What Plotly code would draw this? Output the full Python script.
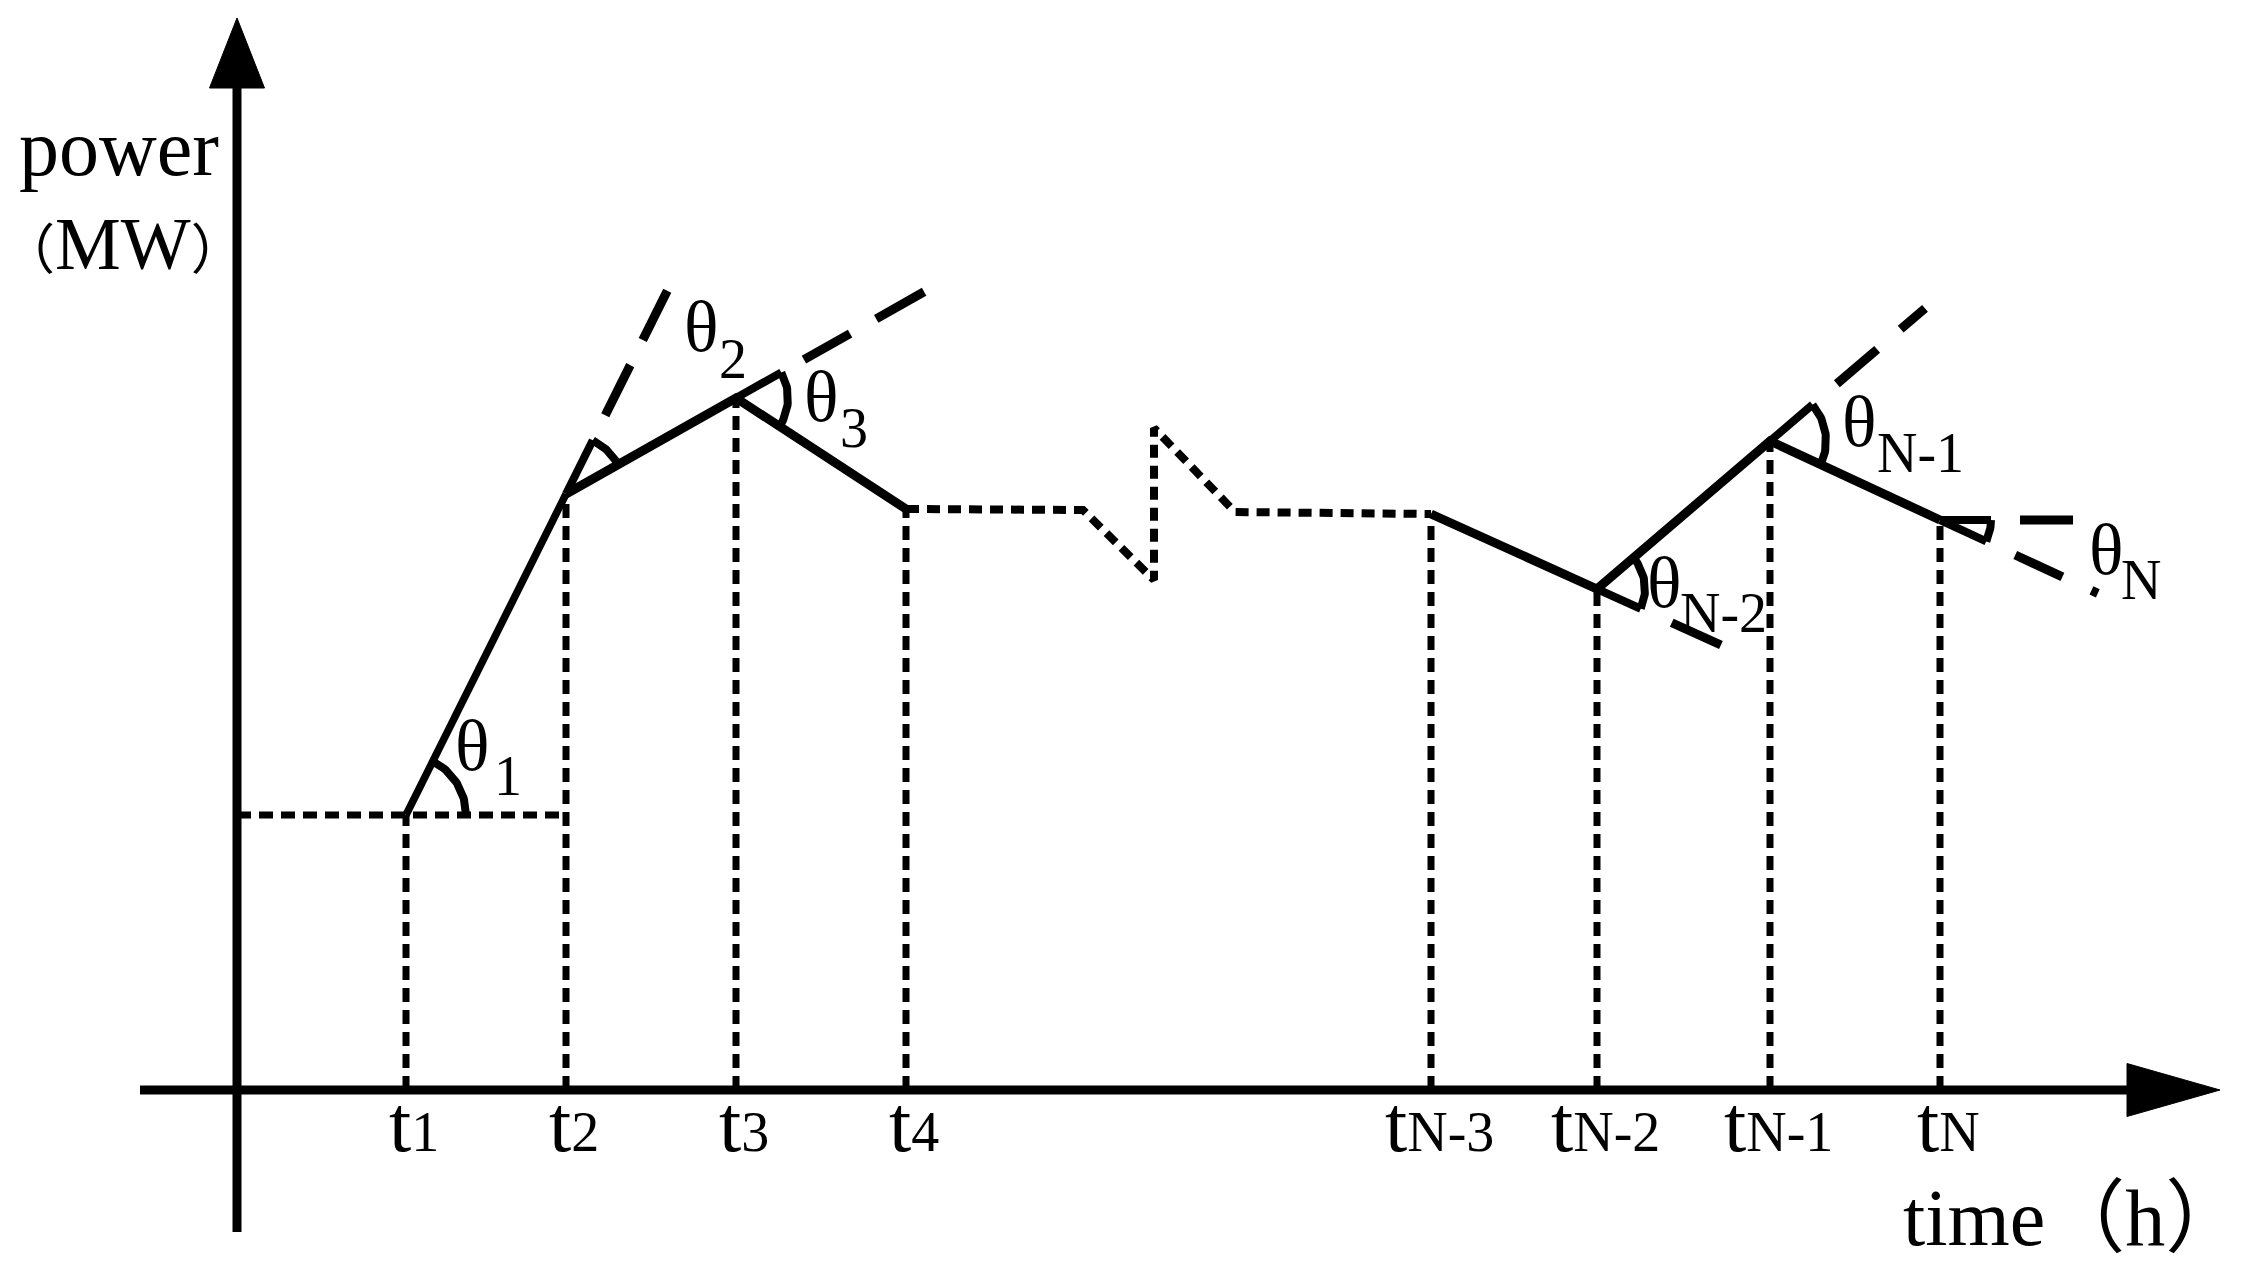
import math
import plotly.graph_objects as go

# ---------------- data (x: time position, y: power level) ----------------
t_subs = ["1", "2", "3", "4", "N-3", "N-2", "N-1", "N"]
t_vals = [169, 329, 499, 669, 1194, 1360, 1533, 1703]
power_vals = [275, 596, 692, 581, 576, 501, 649, 570]
# ramp-break symbol between t4 and tN-3
break_x = [846, 917, 917, 998]
break_y = [580, 510, 662, 578]
theta_subs = ["1", "2", "3", "N-2", "N-1", "N"]

FONT = "Liberation Serif, Noto Sans CJK SC"
BLACK = "black"

X_MIN, X_MAX = -237, 2012
Y_MIN, Y_MAX = -193, 1090

fig = go.Figure()


def seg(xs, ys, width=8, dash=None):
    fig.add_trace(go.Scatter(
        x=xs, y=ys, mode="lines",
        line=dict(color=BLACK, width=width, dash=dash),
        hoverinfo="skip", showlegend=False))


VDASH = "14px,8px"
P = list(zip(t_vals, power_vals))

# vertical dashed guides from the time axis up to each point
for tx, py in P:
    seg([tx, tx], [0, py], width=7, dash=VDASH)

# initial level (dotted horizontal) up to t2
seg([0, t_vals[1]], [power_vals[0], power_vals[0]], width=7, dash=VDASH)

# solid ramp segments t1..t4
seg(t_vals[0:2], power_vals[0:2], width=7.5)
seg(t_vals[1:4], power_vals[1:4], width=9)
# dotted continuation with break symbol
seg([t_vals[3]] + break_x + [t_vals[4]],
    [power_vals[3]] + break_y + [power_vals[4]], width=8, dash="13px,8px")
# solid ramp segments tN-3..tN
seg(t_vals[4:8], power_vals[4:8], width=9)


# ---------------- angle markers ----------------
def unit(a, b):
    dx, dy = b[0] - a[0], b[1] - a[1]
    L = math.hypot(dx, dy)
    return dx / L, dy / L


def arc(v, d1, d2, r, n=30):
    a1 = math.atan2(d1[1], d1[0])
    a2 = math.atan2(d2[1], d2[0])
    da = (a2 - a1 + math.pi) % (2 * math.pi) - math.pi
    xs = [v[0] + r * math.cos(a1 + da * i / n) for i in range(n + 1)]
    ys = [v[1] + r * math.sin(a1 + da * i / n) for i in range(n + 1)]
    seg(xs, ys, width=8)


def ray(v, d, r0, r1, width=9):
    seg([v[0] + d[0] * r0, v[0] + d[0] * r1],
        [v[1] + d[1] * r0, v[1] + d[1] * r1], width=width)


H = (1.0, 0.0)
# theta 1
arc(P[0], H, unit(P[0], P[1]), 60)

markers = [
    # vertex, extension dir, other side dir, radius, ext dashes, other dashes, draw other side
    (P[1], unit(P[0], P[1]), unit(P[1], P[2]), 60, [(88, 144), (172, 227)], [], False),
    (P[2], unit(P[1], P[2]), unit(P[2], P[3]), 52, [(78, 131), (161, 216)], [], False),
    (P[5], unit(P[4], P[5]), unit(P[5], P[6]), 48, [(82, 136)], [], False),
    (P[6], unit(P[5], P[6]), unit(P[6], P[7]), 56, [(88, 141), (172, 204)], [], False),
    (P[7], unit(P[6], P[7]), H, 51, [(83, 135), (167, 174)], [(80, 133)], True),
]
for v, d1, d2, r, dash1, dash2, side2 in markers:
    ray(v, d1, 0, r, width=8)
    if side2:
        ray(v, d2, 0, r, width=8)
    arc(v, d1, d2, r)
    for a, b in dash1:
        ray(v, d1, a, b)
    for a, b in dash2:
        ray(v, d2, a, b)

# ---------------- axes with arrowheads ----------------
AX_W = 9
seg([0, 0], [-142, 1002], width=AX_W)
seg([-97, 1890], [0, 0], width=AX_W)
shapes = [
    dict(type="path", xref="x", yref="y",
         path="M -27.5,1002 L 0,1072 L 27.5,1002 Z",
         fillcolor=BLACK, line=dict(color=BLACK, width=1)),
    dict(type="path", xref="x", yref="y",
         path="M 1890,26.5 L 1983,0 L 1890,-26.5 Z",
         fillcolor=BLACK, line=dict(color=BLACK, width=1)),
]

annotations = []


def txt(x, y, text, size, xanchor="center", yanchor="middle"):
    annotations.append(dict(
        x=x, y=y, xref="x", yref="y", text=text, showarrow=False,
        xanchor=xanchor, yanchor=yanchor,
        font=dict(family=FONT, size=size, color=BLACK)))


# axis titles
txt(-118, 942, "power", 80)
txt(-114, 846, "（<span style='font-size:74px'>MW</span>）", 54)
txt(2010, -128, "time（h）", 80, xanchor="right")

# time tick labels
for tx, s in zip(t_vals, t_subs):
    txt(tx + 8, -34, "t<span style='font-size:56px'>" + s + "</span>", 80)

# theta labels: (theta centre, subscript centre)
theta_pos = [
    ((235, 344), (271, 314)),
    ((464, 763), (496, 731)),
    ((584, 693), (617, 662)),
    ((1427, 507), (1486, 477)),
    ((1622, 668), (1683, 637)),
    ((1869, 540), (1904, 510)),
]
for (tp, sp), s in zip(theta_pos, theta_subs):
    txt(tp[0], tp[1], "θ", 72)
    txt(sp[0], sp[1], s, 56)

fig.update_layout(
    width=2249, height=1283,
    margin=dict(l=0, r=0, t=0, b=0, pad=0),
    paper_bgcolor="white", plot_bgcolor="white",
    xaxis=dict(range=[X_MIN, X_MAX], visible=False, fixedrange=True),
    yaxis=dict(range=[Y_MIN, Y_MAX], visible=False, fixedrange=True),
    shapes=shapes, annotations=annotations,
    showlegend=False,
)

fig.write_html("out.html", config={"displayModeBar": False},
               post_script="document.body.style.margin='0';")
